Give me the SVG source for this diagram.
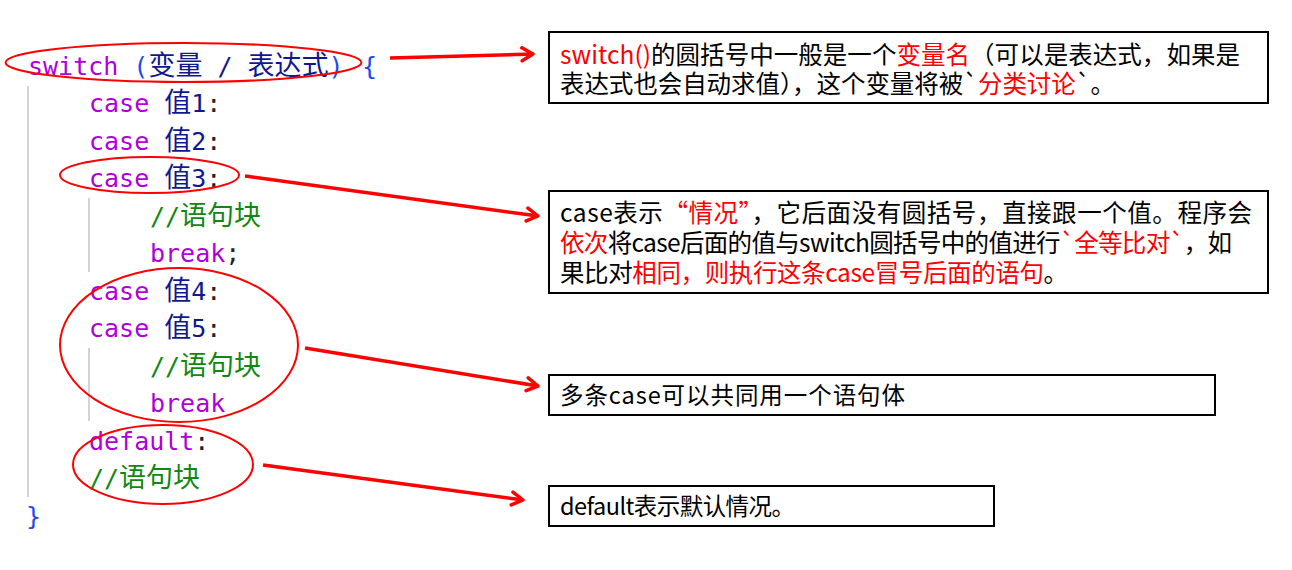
<svg xmlns="http://www.w3.org/2000/svg" width="1292" height="570" viewBox="0 0 1292 570">
<style>
.code{font-family:"DejaVu Sans Mono","Liberation Mono","Noto Sans CJK SC",monospace;font-size:25px;}
.cj{font-family:"Noto Sans CJK SC",sans-serif;font-size:27px;}
.kw{fill:#AF00DB;}
.var{fill:#101890;}
.pun{fill:#222222;}
.br{fill:#1E4BF0;}
.cm{fill:#118811;}
.guide{stroke:#D4D4D4;stroke-width:2;}
.ell{fill:none;stroke:#FF0000;stroke-width:2;}
.box{fill:#FFFFFF;stroke:#000000;stroke-width:2;}
.note{font-family:"Noto Sans CJK SC","Noto Sans",sans-serif;fill:#000000;}
.red{fill:#FF0000;}
.arrow{stroke:#FF0000;stroke-width:3.5;fill:none;marker-end:url(#ah);}
</style>
<defs>
<marker id="ah" markerUnits="userSpaceOnUse" markerWidth="16" markerHeight="18" refX="13" refY="8" orient="auto" viewBox="0 0 16 16">
<path d="M2,1.5 L13,8 L2,14.5" fill="none" stroke="#FF0000" stroke-width="3.5" stroke-linecap="round" stroke-linejoin="round"/>
</marker>
</defs>
<rect width="1292" height="570" fill="#FFFFFF"/>
<g id="code">
<line class="guide" x1="28" y1="86" x2="28" y2="497"/>
<line class="guide" x1="89" y1="198" x2="89" y2="272"/>
<line class="guide" x1="89" y1="348" x2="89" y2="421"/>
<text class="code" x="28" y="74.5"><tspan class="kw">switch</tspan><tspan class="br"> (</tspan><tspan class="cj var">变量</tspan><tspan class="var"> / </tspan><tspan class="cj var">表达式</tspan><tspan class="br">)</tspan><tspan class="br" x="362">{</tspan></text>
<text class="code" x="89" y="112"><tspan class="kw">case</tspan> <tspan class="cj var">值</tspan><tspan class="var">1</tspan><tspan class="pun">:</tspan></text>
<text class="code" x="89" y="149.5"><tspan class="kw">case</tspan> <tspan class="cj var">值</tspan><tspan class="var">2</tspan><tspan class="pun">:</tspan></text>
<text class="code" x="89" y="187"><tspan class="kw">case</tspan> <tspan class="cj var">值</tspan><tspan class="var">3</tspan><tspan class="pun">:</tspan></text>
<text class="code cm" x="150" y="224.5">//<tspan class="cj">语句块</tspan></text>
<text class="code" x="150" y="262"><tspan class="kw">break</tspan><tspan class="pun">;</tspan></text>
<text class="code" x="89" y="299.5"><tspan class="kw">case</tspan> <tspan class="cj var">值</tspan><tspan class="var">4</tspan><tspan class="pun">:</tspan></text>
<text class="code" x="89" y="337"><tspan class="kw">case</tspan> <tspan class="cj var">值</tspan><tspan class="var">5</tspan><tspan class="pun">:</tspan></text>
<text class="code cm" x="150" y="374.5">//<tspan class="cj">语句块</tspan></text>
<text class="code kw" x="150" y="412">break</text>
<text class="code" x="89" y="449.5"><tspan class="kw">default</tspan><tspan class="pun">:</tspan></text>
<text class="code cm" x="89" y="487">//<tspan class="cj">语句块</tspan></text>
<text class="code br" x="26" y="524.5">}</text>
</g>
<g id="highlights">
<ellipse class="ell" cx="183.5" cy="62.5" rx="178" ry="19.5"/>
<ellipse class="ell" cx="149.5" cy="175" rx="89.5" ry="18"/>
<ellipse class="ell" cx="179" cy="345" rx="119" ry="77"/>
<ellipse class="ell" cx="163" cy="464.5" rx="90" ry="39.5"/>
</g>
<g id="connectors">
<line class="arrow" x1="390" y1="58" x2="533" y2="54"/>
<line class="arrow" x1="245" y1="176" x2="538" y2="216"/>
<line class="arrow" x1="305" y1="348" x2="538" y2="386"/>
<line class="arrow" x1="263" y1="465" x2="523" y2="500"/>
</g>
<g id="note-switch">
<rect class="box" x="549" y="32" width="719" height="71"/>
<text class="note" x="560" y="64" font-size="24.5" textLength="680" lengthAdjust="spacing"><tspan class="red">switch()</tspan>的圆括号中一般是一个<tspan class="red">变量名</tspan>（可以是表达式，如果是</text>
<text class="note" x="560" y="93" font-size="24.5" textLength="555" lengthAdjust="spacing">表达式也会自动求值），这个变量将被`<tspan class="red">分类讨论</tspan>`。</text>
</g>
<g id="note-case">
<rect class="box" x="549" y="191" width="719" height="102"/>
<text class="note" x="560" y="222" font-size="24.5" textLength="692" lengthAdjust="spacing">case表示<tspan class="red">“情况”</tspan>，它后面没有圆括号，直接跟一个值。程序会</text>
<text class="note" x="560" y="252" font-size="24.5" textLength="672" lengthAdjust="spacing"><tspan class="red">依次</tspan>将case后面的值与switch圆括号中的值进行<tspan class="red">`全等比对`</tspan>，如</text>
<text class="note" x="560" y="282" font-size="24.5" textLength="508" lengthAdjust="spacing">果比对<tspan class="red">相同，则执行这条case冒号后面的语句</tspan>。</text>
</g>
<g id="note-multi">
<rect class="box" x="549" y="375" width="666" height="40"/>
<text class="note" x="560" y="404" font-size="23.5" textLength="345" lengthAdjust="spacing">多条case可以共同用一个语句体</text>
</g>
<g id="note-default">
<rect class="box" x="549" y="486" width="445" height="40"/>
<text class="note" x="560" y="515" font-size="23.5" textLength="235" lengthAdjust="spacing">default表示默认情况。</text>
</g>
</svg>
